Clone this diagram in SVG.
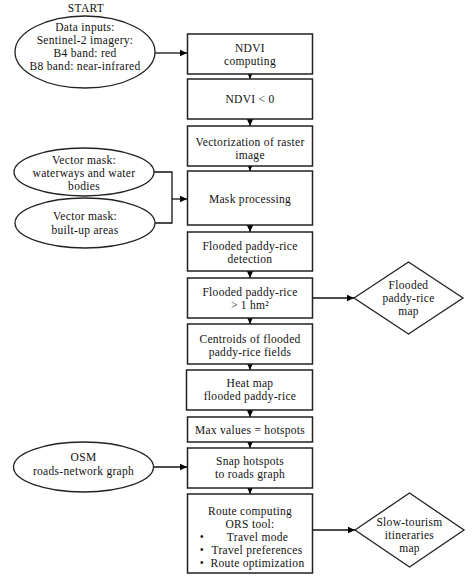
<svg xmlns="http://www.w3.org/2000/svg" width="474" height="582" viewBox="0 0 474 582">
<defs>
<marker id="ah" markerWidth="8" markerHeight="8" refX="7" refY="4" orient="auto" markerUnits="userSpaceOnUse">
<path d="M0,0.8 L7,4 L0,7.2 Z" fill="#000"/>
</marker>
<style>
.box{fill:#fff;stroke:#222;stroke-width:1.5}
.sh{fill:#fff;stroke:#222;stroke-width:1.3}
.ln{fill:none;stroke:#111;stroke-width:1.3}
text{font-family:"Liberation Serif","Times New Roman",serif;font-size:11.5px;letter-spacing:0.3px;fill:#111;text-anchor:middle}
</style>
</defs>
<rect width="474" height="582" fill="#fff"/>
<g id="connectors">
<path class="ln" d="M155,53 H187" marker-end="url(#ah)"/>
<path class="ln" d="M250,74 V79" marker-end="url(#ah)"/>
<path class="ln" d="M250,119 V126" marker-end="url(#ah)"/>
<path class="ln" d="M250,166 V171" marker-end="url(#ah)"/>
<path class="ln" d="M154,172 H172 V223 H155"/>
<path class="ln" d="M172,199 H187" marker-end="url(#ah)"/>
<path class="ln" d="M250,225 V232" marker-end="url(#ah)"/>
<path class="ln" d="M250,271 V278" marker-end="url(#ah)"/>
<path class="ln" d="M312,298 H354" marker-end="url(#ah)"/>
<path class="ln" d="M250,318 V324" marker-end="url(#ah)"/>
<path class="ln" d="M250,364 V370" marker-end="url(#ah)"/>
<path class="ln" d="M250,410 V417" marker-end="url(#ah)"/>
<path class="ln" d="M250,442 V448" marker-end="url(#ah)"/>
<path class="ln" d="M154,467 H187" marker-end="url(#ah)"/>
<path class="ln" d="M250,488 V494" marker-end="url(#ah)"/>
<path class="ln" d="M313,530 H355" marker-end="url(#ah)"/>
</g>
<g id="start">
<text x="86" y="12">START</text>
</g>
<g id="data-inputs">
<ellipse class="sh" cx="85" cy="52" rx="70" ry="36"/>
<text x="85" y="31">Data inputs:</text>
<text x="85" y="44">Sentinel-2 imagery:</text>
<text x="85" y="57">B4 band: red</text>
<text x="85" y="70">B8 band: near-infrared</text>
</g>
<g id="ndvi-computing">
<rect class="box" x="187.5" y="34" width="125" height="40"/>
<text x="250" y="52">NDVI</text>
<text x="250" y="65">computing</text>
</g>
<g id="ndvi-lt0">
<rect class="box" x="187.5" y="79" width="125" height="40"/>
<text x="250" y="103">NDVI &lt; 0</text>
</g>
<g id="vectorization">
<rect class="box" x="187.5" y="126" width="125" height="40"/>
<text x="250" y="146">Vectorization of raster</text>
<text x="250" y="159">image</text>
</g>
<g id="mask-water">
<ellipse class="sh" cx="84" cy="172" rx="70" ry="24"/>
<text x="84" y="164">Vector mask:</text>
<text x="84" y="177">waterways and water</text>
<text x="84" y="190">bodies</text>
</g>
<g id="mask-built">
<ellipse class="sh" cx="85" cy="223" rx="70" ry="25"/>
<text x="85" y="220">Vector mask:</text>
<text x="85" y="234">built-up areas</text>
</g>
<g id="mask-processing">
<rect class="box" x="187.5" y="171" width="125" height="54"/>
<text x="250" y="203">Mask processing</text>
</g>
<g id="flooded-detection">
<rect class="box" x="187.5" y="232" width="125" height="39"/>
<text x="250" y="250">Flooded paddy-rice</text>
<text x="250" y="263">detection</text>
</g>
<g id="flooded-gt1">
<rect class="box" x="187.5" y="278" width="125" height="40"/>
<text x="250" y="296">Flooded paddy-rice</text>
<text x="250" y="309">&gt; 1 hm²</text>
</g>
<g id="flooded-map">
<polygon class="sh" points="354,298 408.5,262 463,298 408.5,334"/>
<text x="408.5" y="289">Flooded</text>
<text x="408.5" y="302">paddy-rice</text>
<text x="408.5" y="315">map</text>
</g>
<g id="centroids">
<rect class="box" x="187.5" y="324" width="125" height="40"/>
<text x="250" y="343">Centroids of flooded</text>
<text x="250" y="356">paddy-rice fields</text>
</g>
<g id="heat-map">
<rect class="box" x="186.5" y="370" width="126" height="40"/>
<text x="250" y="387">Heat map</text>
<text x="250" y="400">flooded paddy-rice</text>
</g>
<g id="max-values">
<rect class="box" x="187.5" y="417" width="125" height="25"/>
<text x="250" y="434">Max values = hotspots</text>
</g>
<g id="osm">
<ellipse class="sh" cx="83.5" cy="467" rx="70" ry="25"/>
<text x="83.5" y="461">OSM</text>
<text x="83.5" y="475">roads-network graph</text>
</g>
<g id="snap">
<rect class="box" x="187.5" y="448" width="125" height="40"/>
<text x="250" y="465">Snap hotspots</text>
<text x="250" y="478">to roads graph</text>
</g>
<g id="route">
<rect class="box" x="187.5" y="494" width="125" height="79"/>
<text x="250" y="515">Route computing</text>
<text x="250" y="528">ORS tool:</text>
<text x="202" y="541">•</text>
<text x="257.5" y="541">Travel mode</text>
<text x="202" y="554">•</text>
<text x="257" y="554">Travel preferences</text>
<text x="202" y="567">•</text>
<text x="257.5" y="567">Route optimization</text>
</g>
<g id="slow-tourism-map">
<polygon class="sh" points="355,530 409.5,493 464,530 409.5,567"/>
<text x="409.5" y="526">Slow-tourism</text>
<text x="409.5" y="539">itineraries</text>
<text x="409.5" y="552">map</text>
</g>
</svg>
